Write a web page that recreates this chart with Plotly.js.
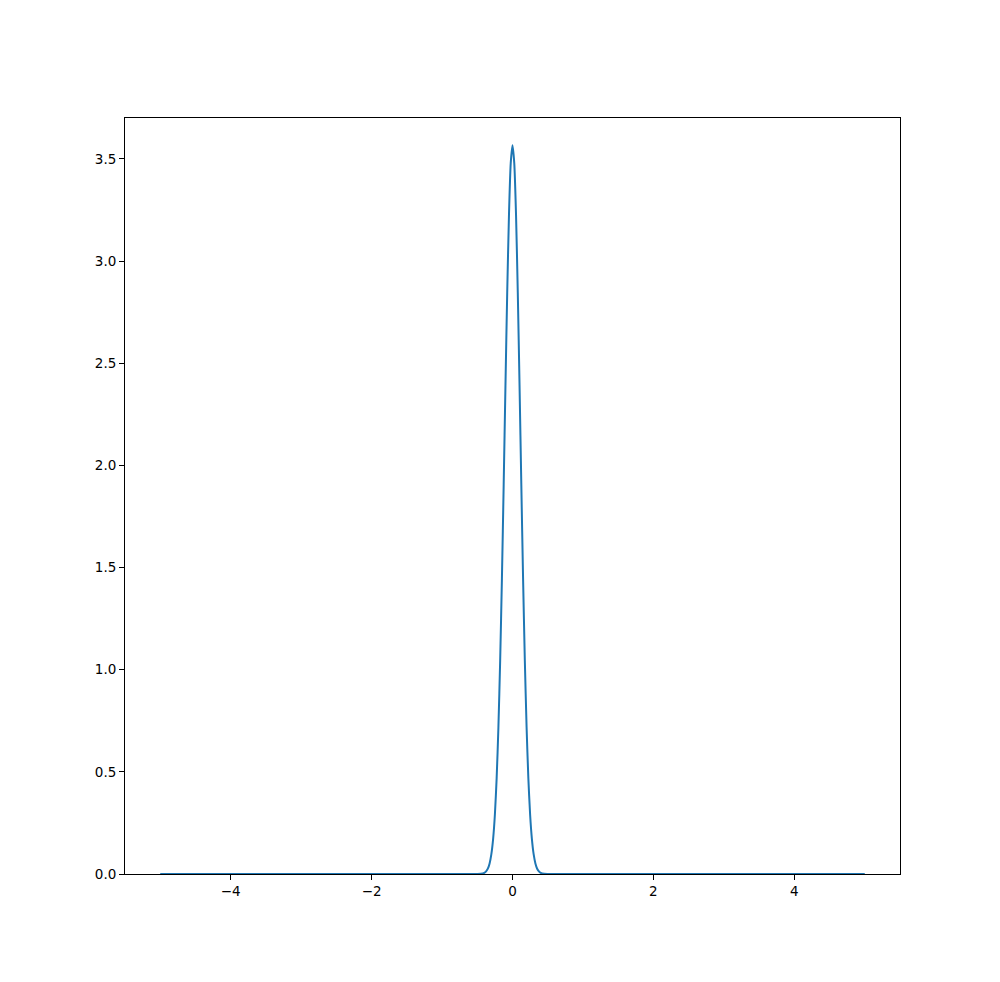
<!DOCTYPE html>
<html>
<head>
<meta charset="utf-8">
<script src="https://cdn.plot.ly/plotly-3.0.1.min.js"></script>
<style>body{margin:0;padding:0;background:#fff;}#chart{width:1000px;height:982px;}</style>
</head>
<body>
<div id="chart"></div>
<script>
// Values
const xValues = [-5, -0.5, -0.45, -0.4, -0.375, -0.35, -0.325, -0.3, -0.275, -0.25, -0.225, -0.2, -0.175, -0.15, -0.125, -0.1, -0.075, -0.05, -0.025, 0,
  0.025, 0.05, 0.075, 0.1, 0.125, 0.15, 0.175, 0.2, 0.225, 0.25, 0.275, 0.3, 0.325, 0.35, 0.375, 0.4, 0.45, 0.5, 5];
const yValues = [0, 0, 0.001, 0.006, 0.013, 0.026, 0.052, 0.097, 0.172, 0.291, 0.469, 0.718, 1.045, 1.448, 1.907, 2.389, 2.847, 3.227, 3.479, 3.567,
  3.479, 3.227, 2.847, 2.389, 1.907, 1.448, 1.045, 0.718, 0.469, 0.291, 0.172, 0.097, 0.052, 0.026, 0.013, 0.006, 0.001, 0, 0];
const xTicks = [-4, -2, 0, 2, 4];
const yTicks = [0, 0.5, 1.0, 1.5, 2.0, 2.5, 3.0, 3.5];

const trace = {
  x: xValues, y: yValues, type: 'scatter', mode: 'lines',
  line: {color: '#1f77b4', width: 2, shape: 'spline', smoothing: 0.6},
  hoverinfo: 'skip'
};
const axisCommon = {
  showgrid: false, zeroline: false, showline: true, mirror: true,
  linecolor: '#000', linewidth: 1, ticks: 'outside', ticklen: 5, tickwidth: 1,
  tickcolor: '#000', tickfont: {family: 'DejaVu Sans', size: 13.5, color: '#000'}
};
const layout = {
  width: 1000, height: 982,
  margin: {l: 125, r: 100, t: 118, b: 108},
  paper_bgcolor: '#fff', plot_bgcolor: '#fff',
  showlegend: false,
  xaxis: Object.assign({}, axisCommon, {range: [-5.5, 5.5], tickvals: xTicks, ticktext: xTicks.map(v => v < 0 ? '\u2212' + Math.abs(v) : String(v))}),
  yaxis: Object.assign({}, axisCommon, {range: [0, 3.70], tickvals: yTicks, ticktext: yTicks.map(v => v.toFixed(1))})
};
Plotly.newPlot('chart', [trace], layout, {displayModeBar: false, staticPlot: true});
</script>
</body>
</html>
